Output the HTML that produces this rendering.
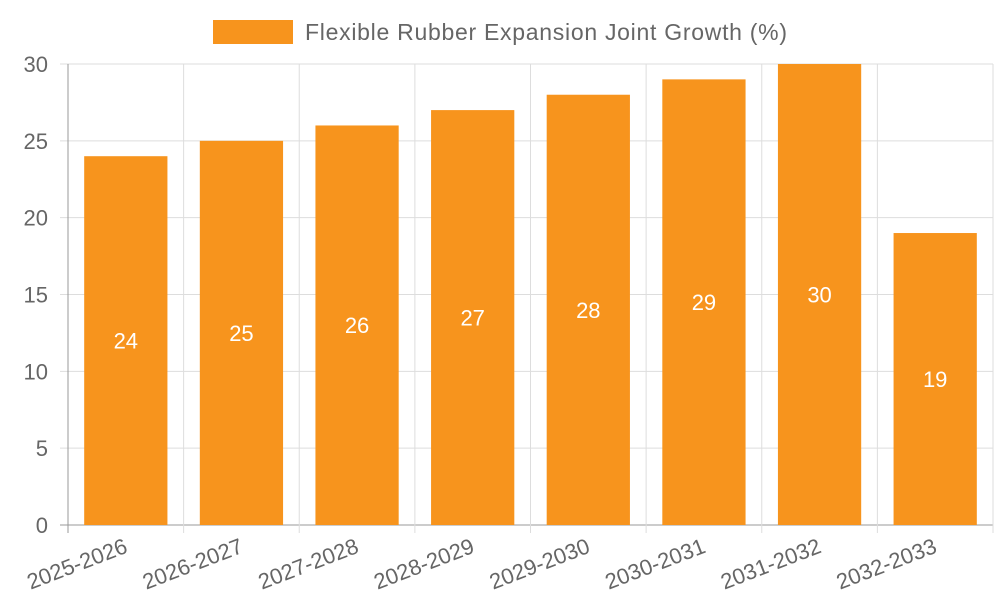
<!DOCTYPE html>
<html><head><meta charset="utf-8"><style>
body{margin:0;background:#fff;}
svg text{font-family:"Liberation Sans",sans-serif;}
</style></head><body>
<svg id="chart" width="1000" height="600">
<g id="legend">
<rect x="213" y="20" width="80" height="24" fill="#f7941d"></rect>
<text x="305" y="40" font-size="23" textLength="482" lengthAdjust="spacing" fill="#666">Flexible Rubber Expansion Joint Growth (%)</text>
</g>
<g id="grid"></g><g id="bars"></g><g id="labels"></g>
</svg>
<script>
const categories=["2025-2026","2026-2027","2027-2028","2028-2029","2029-2030","2030-2031","2031-2032","2032-2033"];
const values=[24,25,26,27,28,29,30,19];
const yTicks=[0,5,10,15,20,25,30];
const L=68,R=993,T=64,B=525,yMax=30;
const ns="http://www.w3.org/2000/svg";
const cw=(R-L)/categories.length;
const y=v=>B-(v/yMax)*(B-T);
const xc=i=>L+cw*(i+0.5);
function mk(tag,attrs,parent){const e=document.createElementNS(ns,tag);for(const k in attrs)e.setAttribute(k,attrs[k]);parent.appendChild(e);return e;}
const grid=document.getElementById('grid'),bars=document.getElementById('bars'),labels=document.getElementById('labels');
yTicks.forEach(t=>{
 const ln=mk('line',{x1:L-8,x2:R,y1:y(t),y2:y(t),stroke:t===0?'#999':'#ddd','stroke-width':1},grid);
 
 
 const tx=mk('text',{x:L-20,y:y(t)+8,'text-anchor':'end','font-size':22,fill:'#666'},grid);
 tx.textContent=t;
 
 
});
for(let i=0;i<=categories.length;i++){
 const gx=L+cw*i;
 const ln=mk('line',{x1:gx,x2:gx,y1:T,y2:B+8,stroke:i===0?'#999':'#ddd','stroke-width':1},grid);
 
 
}
categories.forEach((c,i)=>{
 const bw=cw*0.72;
 const r=mk('rect',{x:xc(i)-bw/2,y:y(values[i]),width:bw,height:B-y(values[i]),fill:'#f7941d'},bars);
 
 
 const v=mk('text',{x:xc(i),y:(y(values[i])+B)/2+8,'text-anchor':'middle','font-size':22,fill:'#fff'},labels);
 v.textContent=values[i];
 
 
 const ax=xc(i)+3,ay=B+27;
 const xl=mk('text',{x:ax,y:ay,'text-anchor':'end','font-size':22,fill:'#666',transform:`rotate(-21 ${ax} ${ay})`},labels);
 xl.textContent=c;
 
 
});
</script>
</body></html>
